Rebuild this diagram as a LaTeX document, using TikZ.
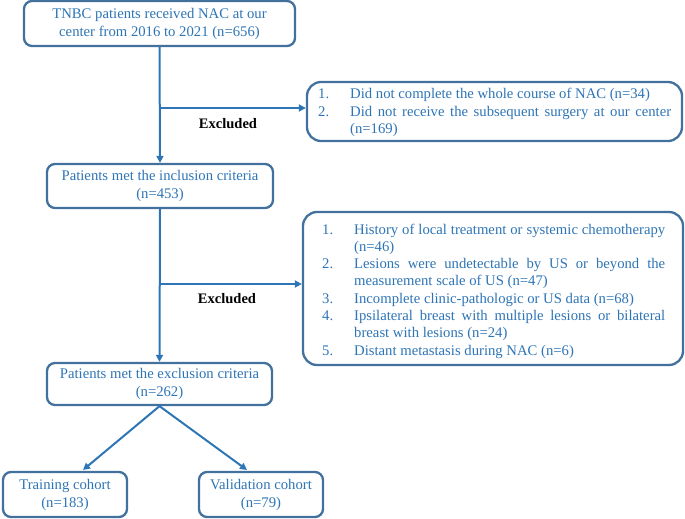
\documentclass[tikz,border=0pt]{standalone}
\usepackage{fontspec}
\setmainfont{Liberation Serif}
\usetikzlibrary{arrows.meta}
\definecolor{boxline}{HTML}{41719C}
\definecolor{txt}{HTML}{2E75B6}
\definecolor{arr}{HTML}{2E75B6}
\tikzset{
  box/.style={draw=boxline, line width=2.3pt, rounded corners=8pt, fill=white,
    text=txt, align=center, inner sep=0pt, font=\fontsize{14.7}{18}\selectfont},
  listbox/.style={draw=boxline, line width=2.3pt, rounded corners=14pt, fill=white,
    text=txt, inner sep=0pt},
  conn/.style={draw=arr, line width=2pt, -{Triangle[length=7pt,width=7pt]}},
  exlabel/.style={font=\bfseries\fontsize{14.5}{17}\selectfont, text=black},
}
\newcommand{\itm}[2]{\hangindent=32pt\hangafter=1\noindent\makebox[32pt][l]{#1}#2\par}
\begin{document}
\begin{tikzpicture}[x=1pt,y=-1pt]
\useasboundingbox (0,0) rectangle (685,519);
\node[box, minimum width=271pt, minimum height=45pt] (b1) at (159.5,23.5)
  {TNBC patients received NAC at our\\center from 2016 to 2021 (n=656)};
\node[box, minimum width=226pt, minimum height=44pt] (b2) at (160,186)
  {Patients met the inclusion criteria\\(n=453)};
\node[box, minimum width=225pt, minimum height=42pt] (b3) at (159.5,384)
  {Patients met the exclusion criteria\\(n=262)};
\node[box, minimum width=124pt, minimum height=45pt] (tr) at (65,494.5)
  {Training cohort\\(n=183)};
\node[box, minimum width=124pt, minimum height=45pt] (va) at (261,494.5)
  {Validation cohort\\(n=79)};
\node[listbox, minimum width=375pt, minimum height=59pt] (e1) at (494.5,111.5) {};
\node[text=txt, inner sep=0pt, anchor=north west, text width=353pt, align=justify,
  font=\fontsize{14.7}{17.5}\selectfont] (e1t) at (318,88)
  {\hyphenpenalty=10000\exhyphenpenalty=10000
   \itm{1.}{Did not complete the whole course of NAC (n=34)}
   \itm{2.}{Did not receive the subsequent surgery at our center (n=169)}};
\node[listbox, minimum width=380pt, minimum height=153pt] (e2) at (493,288.5) {};
\node[text=txt, inner sep=0pt, anchor=north west, text width=343pt, align=justify,
  font=\fontsize{14.7}{17.3}\selectfont] (e2t) at (322,223.5)
  {\hyphenpenalty=10000\exhyphenpenalty=10000
   \itm{1.}{History of local treatment or systemic chemotherapy (n=46)}
   \itm{2.}{Lesions were undetectable by US or beyond the measurement scale of US (n=47)}
   \itm{3.}{Incomplete clinic-pathologic or US data (n=68)}
   \itm{4.}{Ipsilateral breast with multiple lesions or bilateral breast with lesions (n=24)}
   \itm{5.}{Distant metastasis during NAC (n=6)}};
\coordinate (j1) at (160,108);
\coordinate (j2) at (160,284);
\coordinate (t1) at (83,470);
\coordinate (t2) at (247,470);
\draw[conn] (b1.south) -- (b2.north);
\draw[conn] (b2.south) -- (b3.north);
\draw[conn] (j1) -- (j1 -| e1.west);
\draw[conn] (j2) -- (j2 -| e2.west);
\draw[conn] (b3.south) -- (t1);
\draw[conn] (b3.south) -- (t2);
\node[exlabel] (x1) at (228,124) {Excluded};
\node[exlabel] (x2) at (227,299) {Excluded};
\end{tikzpicture}
\end{document}
